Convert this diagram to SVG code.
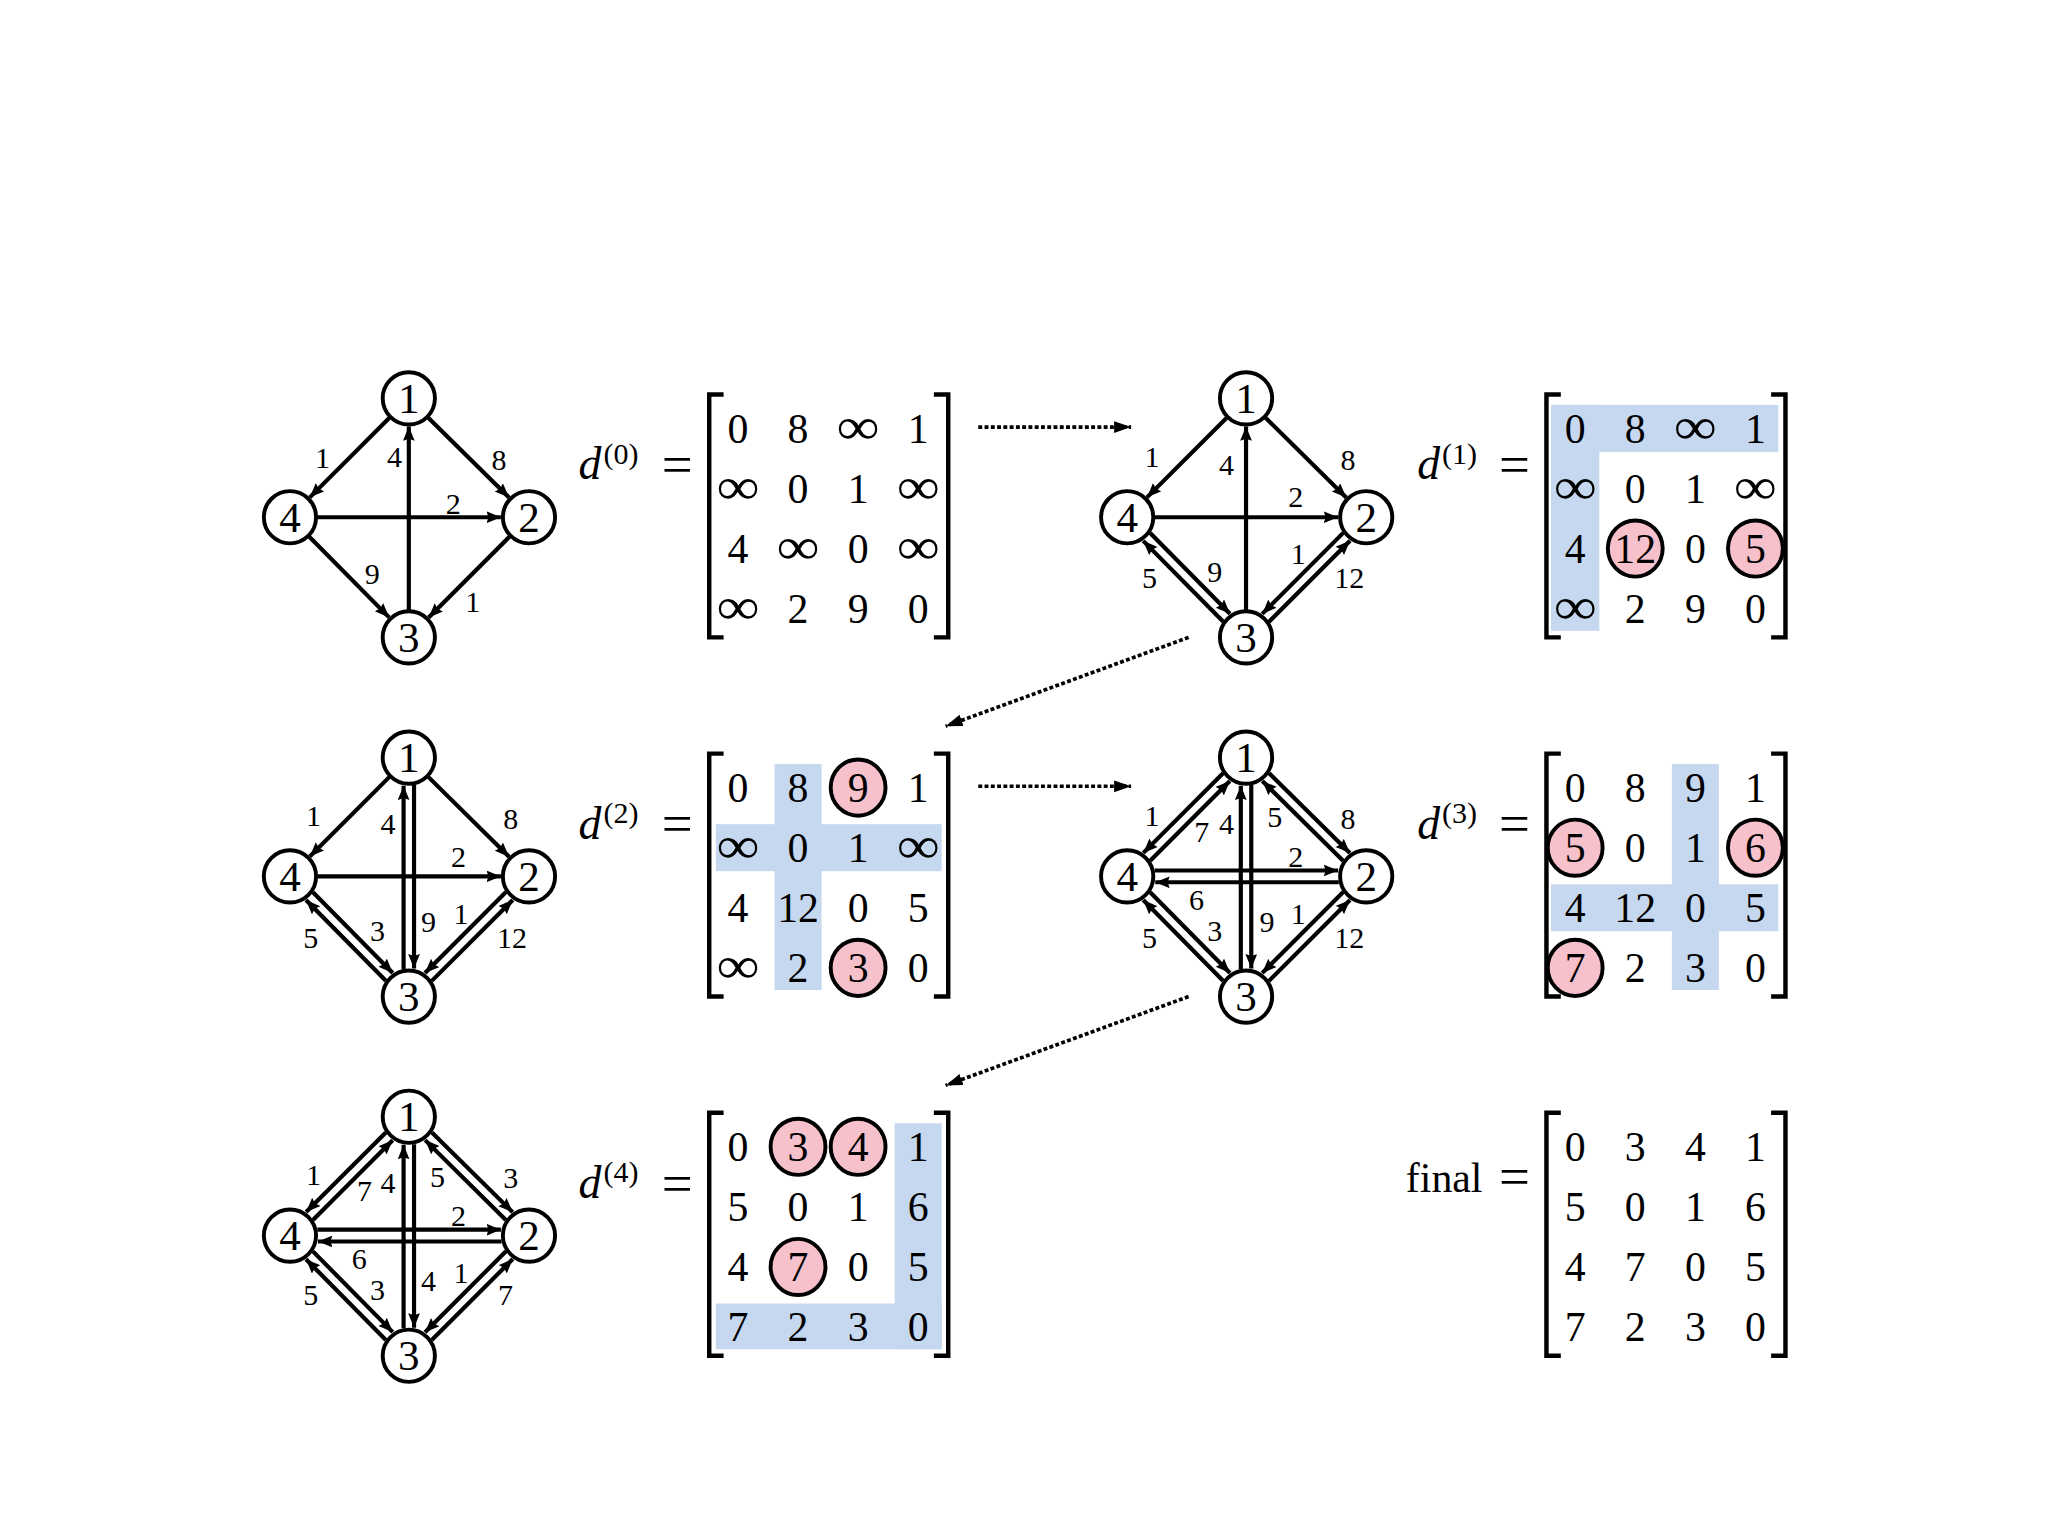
<svg xmlns="http://www.w3.org/2000/svg" width="2048" height="1536" viewBox="0 0 2048 1536">
<defs>
<style>
.e{fill:none;stroke:#000;stroke-width:3.2;marker-end:url(#ah)}
.nd circle{fill:#fff;stroke:#000;stroke-width:3}
.nt{font-family:"Liberation Serif","Times New Roman",serif;font-size:33px;text-anchor:middle;fill:#000}
.el{font-family:"Liberation Serif","Times New Roman",serif;font-size:23px;text-anchor:middle;fill:#000}
.m{font-family:"Liberation Serif","Times New Roman",serif;font-size:32px;text-anchor:middle;fill:#000}
.inf{font-family:"Liberation Serif","Times New Roman",serif;font-size:40px;fill:#000}
.br{fill:none;stroke:#000;stroke-width:3.4}
.blue{fill:#c6d8ef}
.pk{fill:#f7c1cc;stroke:#000;stroke-width:3}
.dl{font-family:"Liberation Serif","Times New Roman",serif;font-style:italic;font-size:35px;fill:#000}
.sup{font-family:"Liberation Serif","Times New Roman",serif;font-size:23px;fill:#000}
.eq{font-family:"Liberation Serif","Times New Roman",serif;font-size:42px;text-anchor:middle;fill:#000}
.dot{fill:none;stroke:#000;stroke-width:2.8;stroke-dasharray:3 1.8;marker-end:url(#dah)}
</style>
<marker id="ah" markerUnits="userSpaceOnUse" markerWidth="13" markerHeight="11" refX="11" refY="4.5" orient="auto"><path d="M0,0 L11,4.5 L0,9 L1.5,4.5 z" fill="#000"/></marker>
<marker id="dah" markerUnits="userSpaceOnUse" markerWidth="16" markerHeight="12" refX="13" refY="4.5" orient="auto"><path d="M0,0 L13,4.5 L0,9 z" fill="#000"/></marker>
</defs>
<rect width="2048" height="1536" fill="#fff"/>
<g transform="scale(1.30612)">

<!-- Graph 0 -->
<g id="graph0" transform="translate(313,305)">
 <g id="g0-edges">
  <path class="e" d="M-14.8,14.8 L-75.8,75.8"/>
  <path class="e" d="M14.9,14.8 L76.7,75.9"/>
  <path class="e" d="M0,162 L0,21.5"/>
  <path class="e" d="M-70,91 L70.5,91"/>
  <path class="e" d="M-76.2,105.9 L-15.1,167.7"/>
  <path class="e" d="M77.2,105.8 L15.2,167.8"/>
  <text class="el" x="-66" y="53.5">1</text>
  <text class="el" x="-11" y="52.5">4</text>
  <text class="el" x="69" y="54.5">8</text>
  <text class="el" x="34" y="88.5">2</text>
  <text class="el" x="-28" y="142.5">9</text>
  <text class="el" x="49" y="163.5">1</text>
 </g>
 <g id="g0-n1" class="nd"><circle cx="0" cy="0" r="20"/><text class="nt" x="0" y="11">1</text></g>
 <g id="g0-n2" class="nd"><circle cx="92" cy="91" r="20"/><text class="nt" x="92" y="102">2</text></g>
 <g id="g0-n3" class="nd"><circle cx="0" cy="183" r="20"/><text class="nt" x="0" y="194">3</text></g>
 <g id="g0-n4" class="nd"><circle cx="-91" cy="91" r="20"/><text class="nt" x="-91" y="102">4</text></g>
</g>

<!-- Graph 1 -->
<g id="graph1" transform="translate(954,305)">
 <g id="g1-edges">
  <path class="e" d="M-14.8,14.8 L-75.8,75.8"/>
  <path class="e" d="M14.9,14.8 L76.7,75.9"/>
  <path class="e" d="M0,162 L0,21.5"/>
  <path class="e" d="M-70,91 L70.5,91"/>
  <path class="e" d="M-17.6,170.9 L-78.7,109.1"/>
  <path class="e" d="M-73.4,103.1 L-12.3,164.9"/>
  <path class="e" d="M74.4,103 L12.4,165"/>
  <path class="e" d="M17.6,171 L79.6,109"/>
  <text class="el" x="-72" y="52.5">1</text>
  <text class="el" x="-15" y="58.5">4</text>
  <text class="el" x="78" y="54.5">8</text>
  <text class="el" x="38" y="83.5">2</text>
  <text class="el" x="-74" y="145.5">5</text>
  <text class="el" x="-24" y="140.5">9</text>
  <text class="el" x="40" y="126.5">1</text>
  <text class="el" x="79" y="145.5">12</text>
 </g>
 <g id="g1-n1" class="nd"><circle cx="0" cy="0" r="20"/><text class="nt" x="0" y="11">1</text></g>
 <g id="g1-n2" class="nd"><circle cx="92" cy="91" r="20"/><text class="nt" x="92" y="102">2</text></g>
 <g id="g1-n3" class="nd"><circle cx="0" cy="183" r="20"/><text class="nt" x="0" y="194">3</text></g>
 <g id="g1-n4" class="nd"><circle cx="-91" cy="91" r="20"/><text class="nt" x="-91" y="102">4</text></g>
</g>

<!-- Graph 2 -->
<g id="graph2" transform="translate(313,580)">
 <g id="g2-edges">
  <path class="e" d="M-14.8,14.8 L-75.8,75.8"/>
  <path class="e" d="M14.9,14.8 L76.7,75.9"/>
  <path class="e" d="M-4,162 L-4,21.5"/>
  <path class="e" d="M4,21 L4,161.5"/>
  <path class="e" d="M-70,91 L70.5,91"/>
  <path class="e" d="M-17.6,170.9 L-78.7,109.1"/>
  <path class="e" d="M-73.4,103.1 L-12.3,164.9"/>
  <path class="e" d="M74.4,103 L12.4,165"/>
  <path class="e" d="M17.6,171 L79.6,109"/>
  <text class="el" x="-73" y="52.5">1</text>
  <text class="el" x="-16" y="58.5">4</text>
  <text class="el" x="78" y="54.5">8</text>
  <text class="el" x="38" y="83.5">2</text>
  <text class="el" x="-75" y="145.5">5</text>
  <text class="el" x="-24" y="140.5">3</text>
  <text class="el" x="15" y="133.5">9</text>
  <text class="el" x="40" y="127.5">1</text>
  <text class="el" x="79" y="145.5">12</text>
 </g>
 <g id="g2-n1" class="nd"><circle cx="0" cy="0" r="20"/><text class="nt" x="0" y="11">1</text></g>
 <g id="g2-n2" class="nd"><circle cx="92" cy="91" r="20"/><text class="nt" x="92" y="102">2</text></g>
 <g id="g2-n3" class="nd"><circle cx="0" cy="183" r="20"/><text class="nt" x="0" y="194">3</text></g>
 <g id="g2-n4" class="nd"><circle cx="-91" cy="91" r="20"/><text class="nt" x="-91" y="102">4</text></g>
</g>

<!-- Graph 3 -->
<g id="graph3" transform="translate(954,580)">
 <g id="g3-edges">
  <path class="e" d="M-17.6,12 L-78.6,73"/>
  <path class="e" d="M-73.4,79 L-12.4,18"/>
  <path class="e" d="M17.7,12 L79.5,73.1"/>
  <path class="e" d="M74.3,79 L12.5,17.9"/>
  <path class="e" d="M-4,162 L-4,21.5"/>
  <path class="e" d="M4,21 L4,161.5"/>
  <path class="e" d="M-70,86.5 L70.5,86.5"/>
  <path class="e" d="M71,95.5 L-69.5,95.5"/>
  <path class="e" d="M-17.6,170.9 L-78.7,109.1"/>
  <path class="e" d="M-73.4,103.1 L-12.3,164.9"/>
  <path class="e" d="M74.4,103 L12.4,165"/>
  <path class="e" d="M17.6,171 L79.6,109"/>
  <text class="el" x="-72" y="52.5">1</text>
  <text class="el" x="-34" y="64.5">7</text>
  <text class="el" x="-15" y="58.5">4</text>
  <text class="el" x="22" y="53.5">5</text>
  <text class="el" x="78" y="54.5">8</text>
  <text class="el" x="38" y="83.5">2</text>
  <text class="el" x="-38" y="116.5">6</text>
  <text class="el" x="-74" y="145.5">5</text>
  <text class="el" x="-24" y="140.5">3</text>
  <text class="el" x="16" y="133.5">9</text>
  <text class="el" x="40" y="127.5">1</text>
  <text class="el" x="79" y="145.5">12</text>
 </g>
 <g id="g3-n1" class="nd"><circle cx="0" cy="0" r="20"/><text class="nt" x="0" y="11">1</text></g>
 <g id="g3-n2" class="nd"><circle cx="92" cy="91" r="20"/><text class="nt" x="92" y="102">2</text></g>
 <g id="g3-n3" class="nd"><circle cx="0" cy="183" r="20"/><text class="nt" x="0" y="194">3</text></g>
 <g id="g3-n4" class="nd"><circle cx="-91" cy="91" r="20"/><text class="nt" x="-91" y="102">4</text></g>
</g>

<!-- Graph 4 -->
<g id="graph4" transform="translate(313,855)">
 <g id="g4-edges">
  <path class="e" d="M-17.6,12 L-78.6,73"/>
  <path class="e" d="M-73.4,79 L-12.4,18"/>
  <path class="e" d="M17.7,12 L79.5,73.1"/>
  <path class="e" d="M74.3,79 L12.5,17.9"/>
  <path class="e" d="M-4,162 L-4,21.5"/>
  <path class="e" d="M4,21 L4,161.5"/>
  <path class="e" d="M-70,86.5 L70.5,86.5"/>
  <path class="e" d="M71,95.5 L-69.5,95.5"/>
  <path class="e" d="M-17.6,170.9 L-78.7,109.1"/>
  <path class="e" d="M-73.4,103.1 L-12.3,164.9"/>
  <path class="e" d="M74.4,103 L12.4,165"/>
  <path class="e" d="M17.6,171 L79.6,109"/>
  <text class="el" x="-73" y="52.5">1</text>
  <text class="el" x="-34" y="64.5">7</text>
  <text class="el" x="-16" y="58.5">4</text>
  <text class="el" x="22" y="53.5">5</text>
  <text class="el" x="78" y="54.5">3</text>
  <text class="el" x="38" y="83.5">2</text>
  <text class="el" x="-38" y="116.5">6</text>
  <text class="el" x="-75" y="144.5">5</text>
  <text class="el" x="-24" y="140.5">3</text>
  <text class="el" x="15" y="133.5">4</text>
  <text class="el" x="40" y="127.5">1</text>
  <text class="el" x="74" y="144.5">7</text>
 </g>
 <g id="g4-n1" class="nd"><circle cx="0" cy="0" r="20"/><text class="nt" x="0" y="11">1</text></g>
 <g id="g4-n2" class="nd"><circle cx="92" cy="91" r="20"/><text class="nt" x="92" y="102">2</text></g>
 <g id="g4-n3" class="nd"><circle cx="0" cy="183" r="20"/><text class="nt" x="0" y="194">3</text></g>
 <g id="g4-n4" class="nd"><circle cx="-91" cy="91" r="20"/><text class="nt" x="-91" y="102">4</text></g>
</g>

<!-- Step connectors -->
<g id="steps">
 <path class="dot" d="M749,327 L866,327"/>
 <path class="dot" d="M910,488 L724,556"/>
 <path class="dot" d="M749,602 L866,602"/>
 <path class="dot" d="M910,763 L724,831"/>
</g>

<!-- Matrix d0 -->
<g id="matrix-d0" transform="translate(565,328)">
 <text class="dl" x="-122" y="39">d</text><text class="sup" x="-103" y="27">(0)</text><text class="eq" x="-46.5" y="42">=</text>
 <path class="br" d="M-11,-26 L-22,-26 L-22,160 L-11,160"/>
 <path class="br" d="M150,-26 L161,-26 L161,160 L150,160"/>
 <text class="m" x="0" y="11">0</text><text class="m" x="46" y="11">8</text><text class="inf" x="75.5" y="12" textLength="33" lengthAdjust="spacingAndGlyphs">∞</text><text class="m" x="138" y="11">1</text>
 <text class="inf" x="-16.5" y="58" textLength="33" lengthAdjust="spacingAndGlyphs">∞</text><text class="m" x="46" y="57">0</text><text class="m" x="92" y="57">1</text><text class="inf" x="121.5" y="58" textLength="33" lengthAdjust="spacingAndGlyphs">∞</text>
 <text class="m" x="0" y="103">4</text><text class="inf" x="29.5" y="104" textLength="33" lengthAdjust="spacingAndGlyphs">∞</text><text class="m" x="92" y="103">0</text><text class="inf" x="121.5" y="104" textLength="33" lengthAdjust="spacingAndGlyphs">∞</text>
 <text class="inf" x="-16.5" y="150" textLength="33" lengthAdjust="spacingAndGlyphs">∞</text><text class="m" x="46" y="149">2</text><text class="m" x="92" y="149">9</text><text class="m" x="138" y="149">0</text>
</g>

<!-- Matrix d1 -->
<g id="matrix-d1" transform="translate(1206,328)">
 <rect class="blue" x="-18.5" y="-18" width="174" height="36"/>
 <rect class="blue" x="-18.5" y="-18" width="37" height="173"/>
 <ellipse class="pk" cx="46" cy="92" rx="21" ry="21.5"/>
 <ellipse class="pk" cx="138" cy="92" rx="21" ry="21.5"/>
 <text class="dl" x="-121" y="39">d</text><text class="sup" x="-102" y="27">(1)</text><text class="eq" x="-46.5" y="42">=</text>
 <path class="br" d="M-11,-26 L-22,-26 L-22,160 L-11,160"/>
 <path class="br" d="M150,-26 L161,-26 L161,160 L150,160"/>
 <text class="m" x="0" y="11">0</text><text class="m" x="46" y="11">8</text><text class="inf" x="75.5" y="12" textLength="33" lengthAdjust="spacingAndGlyphs">∞</text><text class="m" x="138" y="11">1</text>
 <text class="inf" x="-16.5" y="58" textLength="33" lengthAdjust="spacingAndGlyphs">∞</text><text class="m" x="46" y="57">0</text><text class="m" x="92" y="57">1</text><text class="inf" x="121.5" y="58" textLength="33" lengthAdjust="spacingAndGlyphs">∞</text>
 <text class="m" x="0" y="103">4</text><text class="m" x="46" y="103">12</text><text class="m" x="92" y="103">0</text><text class="m" x="138" y="103">5</text>
 <text class="inf" x="-16.5" y="150" textLength="33" lengthAdjust="spacingAndGlyphs">∞</text><text class="m" x="46" y="149">2</text><text class="m" x="92" y="149">9</text><text class="m" x="138" y="149">0</text>
</g>

<!-- Matrix d2 -->
<g id="matrix-d2" transform="translate(565,603)">
 <rect class="blue" x="28" y="-18" width="36" height="173"/>
 <rect class="blue" x="-17" y="28" width="173" height="36"/>
 <ellipse class="pk" cx="92" cy="0" rx="21" ry="21.5"/>
 <ellipse class="pk" cx="92" cy="138" rx="21" ry="21.5"/>
 <text class="dl" x="-122" y="39">d</text><text class="sup" x="-103" y="27">(2)</text><text class="eq" x="-46.5" y="42">=</text>
 <path class="br" d="M-11,-26 L-22,-26 L-22,160 L-11,160"/>
 <path class="br" d="M150,-26 L161,-26 L161,160 L150,160"/>
 <text class="m" x="0" y="11">0</text><text class="m" x="46" y="11">8</text><text class="m" x="92" y="11">9</text><text class="m" x="138" y="11">1</text>
 <text class="inf" x="-16.5" y="58" textLength="33" lengthAdjust="spacingAndGlyphs">∞</text><text class="m" x="46" y="57">0</text><text class="m" x="92" y="57">1</text><text class="inf" x="121.5" y="58" textLength="33" lengthAdjust="spacingAndGlyphs">∞</text>
 <text class="m" x="0" y="103">4</text><text class="m" x="46" y="103">12</text><text class="m" x="92" y="103">0</text><text class="m" x="138" y="103">5</text>
 <text class="inf" x="-16.5" y="150" textLength="33" lengthAdjust="spacingAndGlyphs">∞</text><text class="m" x="46" y="149">2</text><text class="m" x="92" y="149">3</text><text class="m" x="138" y="149">0</text>
</g>

<!-- Matrix d3 -->
<g id="matrix-d3" transform="translate(1206,603)">
 <rect class="blue" x="74" y="-18" width="36" height="173"/>
 <rect class="blue" x="-18.5" y="74" width="174" height="36"/>
 <ellipse class="pk" cx="0" cy="46" rx="21" ry="21.5"/>
 <ellipse class="pk" cx="138" cy="46" rx="21" ry="21.5"/>
 <ellipse class="pk" cx="0" cy="138" rx="21" ry="21.5"/>
 <text class="dl" x="-121" y="39">d</text><text class="sup" x="-102" y="27">(3)</text><text class="eq" x="-46.5" y="42">=</text>
 <path class="br" d="M-11,-26 L-22,-26 L-22,160 L-11,160"/>
 <path class="br" d="M150,-26 L161,-26 L161,160 L150,160"/>
 <text class="m" x="0" y="11">0</text><text class="m" x="46" y="11">8</text><text class="m" x="92" y="11">9</text><text class="m" x="138" y="11">1</text>
 <text class="m" x="0" y="57">5</text><text class="m" x="46" y="57">0</text><text class="m" x="92" y="57">1</text><text class="m" x="138" y="57">6</text>
 <text class="m" x="0" y="103">4</text><text class="m" x="46" y="103">12</text><text class="m" x="92" y="103">0</text><text class="m" x="138" y="103">5</text>
 <text class="m" x="0" y="149">7</text><text class="m" x="46" y="149">2</text><text class="m" x="92" y="149">3</text><text class="m" x="138" y="149">0</text>
</g>

<!-- Matrix d4 -->
<g id="matrix-d4" transform="translate(565,878)">
 <rect class="blue" x="120" y="-18" width="36" height="173"/>
 <rect class="blue" x="-17" y="120" width="173" height="35"/>
 <ellipse class="pk" cx="46" cy="0" rx="21" ry="21.5"/>
 <ellipse class="pk" cx="92" cy="0" rx="21" ry="21.5"/>
 <ellipse class="pk" cx="46" cy="92" rx="21" ry="21.5"/>
 <text class="dl" x="-122" y="39">d</text><text class="sup" x="-103" y="27">(4)</text><text class="eq" x="-46.5" y="42">=</text>
 <path class="br" d="M-11,-26 L-22,-26 L-22,160 L-11,160"/>
 <path class="br" d="M150,-26 L161,-26 L161,160 L150,160"/>
 <text class="m" x="0" y="11">0</text><text class="m" x="46" y="11">3</text><text class="m" x="92" y="11">4</text><text class="m" x="138" y="11">1</text>
 <text class="m" x="0" y="57">5</text><text class="m" x="46" y="57">0</text><text class="m" x="92" y="57">1</text><text class="m" x="138" y="57">6</text>
 <text class="m" x="0" y="103">4</text><text class="m" x="46" y="103">7</text><text class="m" x="92" y="103">0</text><text class="m" x="138" y="103">5</text>
 <text class="m" x="0" y="149">7</text><text class="m" x="46" y="149">2</text><text class="m" x="92" y="149">3</text><text class="m" x="138" y="149">0</text>
</g>

<!-- Final matrix -->
<g id="matrix-final" transform="translate(1206,878)">
 <text class="m" x="-71" y="35" style="text-anchor:end">final</text><text class="eq" x="-46.5" y="37">=</text>
 <path class="br" d="M-11,-26 L-22,-26 L-22,160 L-11,160"/>
 <path class="br" d="M150,-26 L161,-26 L161,160 L150,160"/>
 <text class="m" x="0" y="11">0</text><text class="m" x="46" y="11">3</text><text class="m" x="92" y="11">4</text><text class="m" x="138" y="11">1</text>
 <text class="m" x="0" y="57">5</text><text class="m" x="46" y="57">0</text><text class="m" x="92" y="57">1</text><text class="m" x="138" y="57">6</text>
 <text class="m" x="0" y="103">4</text><text class="m" x="46" y="103">7</text><text class="m" x="92" y="103">0</text><text class="m" x="138" y="103">5</text>
 <text class="m" x="0" y="149">7</text><text class="m" x="46" y="149">2</text><text class="m" x="92" y="149">3</text><text class="m" x="138" y="149">0</text>
</g>

</g>
</svg>
